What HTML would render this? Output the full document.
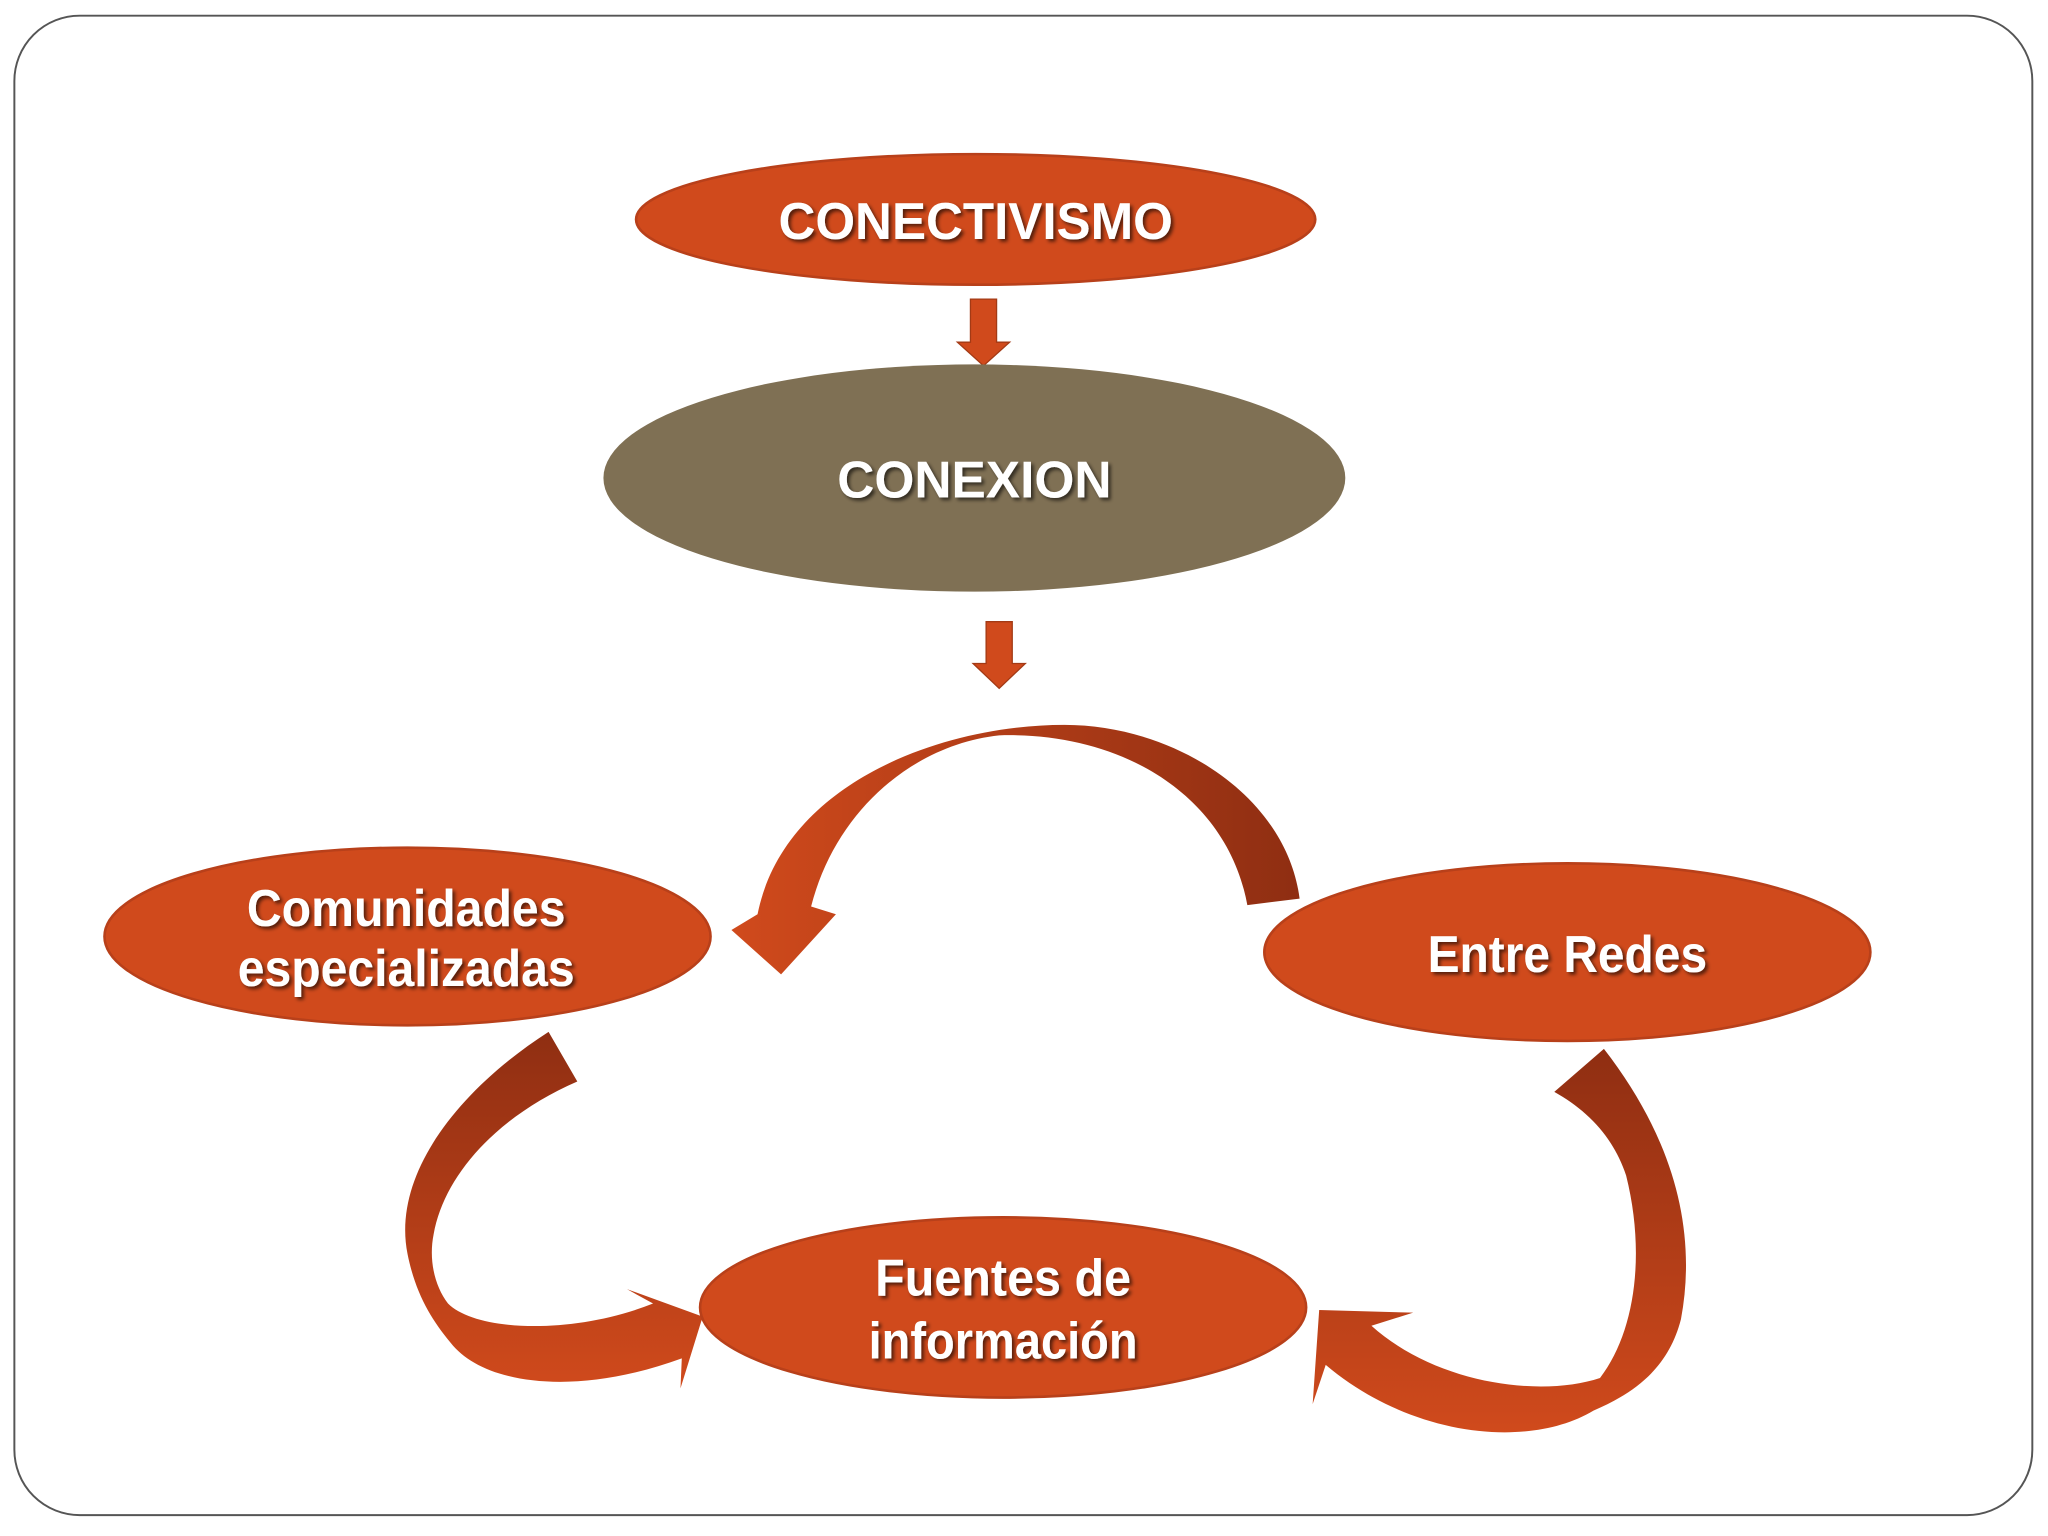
<!DOCTYPE html>
<html><head><meta charset="utf-8"><style>
html,body{margin:0;padding:0;background:#fff}
svg{display:block}
text{font-family:"Liberation Sans",sans-serif;font-weight:bold;fill:#fff;text-anchor:middle}
</style></head><body>
<svg width="2048" height="1536" viewBox="0 0 1568 1176" preserveAspectRatio="none" xmlns="http://www.w3.org/2000/svg">
<defs>
<filter id="sh" x="-10%" y="-10%" width="120%" height="130%"><feDropShadow dx="2" dy="2" stdDeviation="1.5" flood-color="#000" flood-opacity="0.6"/></filter>
<linearGradient id="g1" x1="0" y1="0" x2="1" y2="0"><stop offset="0" stop-color="#d04a1c"/><stop offset="1" stop-color="#8f2e12"/></linearGradient>
<linearGradient id="g2" x1="0" y1="0" x2="0" y2="1"><stop offset="0" stop-color="#8f2e12"/><stop offset="1" stop-color="#d04a1c"/></linearGradient>
</defs>
<rect x="11" y="12" width="1545" height="1148" rx="50" fill="#fff" stroke="#555" stroke-width="1.5"/>
<!-- small arrows -->
<path d="M743,229 L763,229 L763,262 L773,262 L753,280 L733,262 L743,262 Z" fill="#d04a1c" stroke="#a33a15"/>
<path d="M755,476 L775,476 L775,508 L785,508 L765,527 L745,508 L755,508 Z" fill="#d04a1c" stroke="#a33a15"/>
<!-- top curved arrow -->
<path d="M995,688 C985,610 900,555 815,555 C720,555 600,600 580,700 L560,712 L598,746 L640,700 L621,694 C640,620 700,570 765,563 C860,560 940,610 955,693 Z" fill="url(#g1)"/>
<!-- left curved arrow -->
<path d="M420,790 C350,835 300,900 312,960 C318,990 330,1010 345,1028 C370,1060 440,1070 522,1040 L521,1063 L538,1008 L480,987 L500,998 C440,1022 365,1020 343,998 C333,985 328,965 332,945 C340,900 380,855 442,828 Z" fill="url(#g2)"/>
<!-- right curved arrow -->
<path d="M1228,803 C1280,870 1300,940 1287,1010 C1278,1045 1255,1065 1220,1080 C1170,1110 1080,1100 1015,1045 L1005,1075 L1010,1003 L1082,1005 L1050,1015 C1100,1060 1180,1070 1225,1055 C1252,1020 1260,960 1245,900 C1235,870 1215,850 1190,836 Z" fill="url(#g2)"/>
<!-- ellipses -->
<ellipse cx="747" cy="168" rx="260" ry="50" fill="#d04a1c" stroke="#b8401a" stroke-width="2"/>
<ellipse cx="746" cy="366" rx="284" ry="87" fill="#7f7054"/>
<ellipse cx="312" cy="717" rx="232" ry="68" fill="#d04a1c" stroke="#b8401a" stroke-width="2"/>
<ellipse cx="1200" cy="729" rx="232" ry="68" fill="#d04a1c" stroke="#b8401a" stroke-width="2"/>
<ellipse cx="768" cy="1001" rx="232" ry="69" fill="#d04a1c" stroke="#b8401a" stroke-width="2"/>
<g filter="url(#sh)" font-size="40">
<text x="747" y="183" textLength="302" lengthAdjust="spacingAndGlyphs">CONECTIVISMO</text>
<text x="746" y="381" textLength="210" lengthAdjust="spacingAndGlyphs">CONEXION</text>
<text x="311" y="709" textLength="244" lengthAdjust="spacingAndGlyphs">Comunidades</text>
<text x="311" y="755" textLength="258" lengthAdjust="spacingAndGlyphs">especializadas</text>
<text x="1200" y="744" textLength="214" lengthAdjust="spacingAndGlyphs">Entre Redes</text>
<text x="768" y="992" textLength="196" lengthAdjust="spacingAndGlyphs">Fuentes de</text>
<text x="768" y="1040" textLength="206" lengthAdjust="spacingAndGlyphs">información</text>
</g>
</svg>
</body></html>
